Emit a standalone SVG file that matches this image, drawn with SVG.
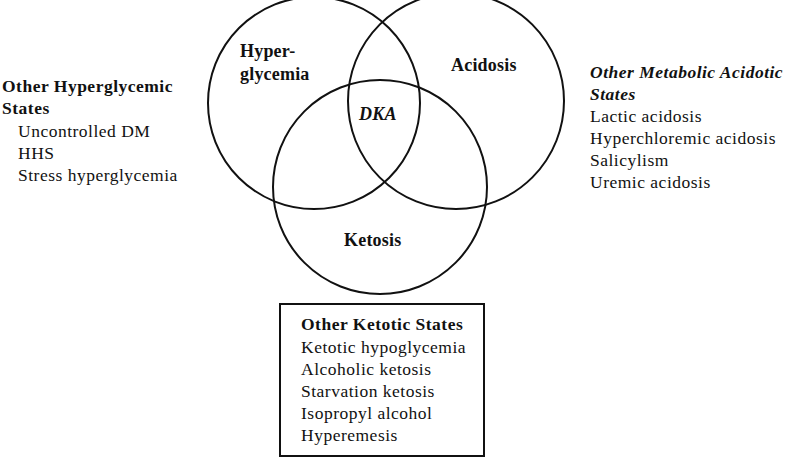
<svg xmlns="http://www.w3.org/2000/svg" width="786" height="459" viewBox="0 0 786 459">
<style>
.c{fill:none;stroke:#111;stroke-width:2}
text{font-family:"Liberation Serif","Times New Roman",serif;fill:#111;font-size:17.5px;letter-spacing:0.5px}
.b{font-weight:bold}
.bi{font-weight:bold;font-style:italic}
.lbl{font-size:18px;font-weight:bold;letter-spacing:0.2px}
</style>
<rect width="786" height="459" fill="#fff"/>
<g id="hyperglycemia">
<circle class="c" cx="314" cy="103" r="106"/>
<text class="lbl" x="240" y="57">Hyper-</text>
<text class="lbl" x="240" y="80">glycemia</text>
</g>
<g id="acidosis">
<circle class="c" cx="456" cy="101" r="108"/>
<text class="lbl" x="451" y="71">Acidosis</text>
</g>
<g id="ketosis">
<circle class="c" cx="380" cy="187" r="107"/>
<text class="lbl" x="344" y="246">Ketosis</text>
</g>
<g id="dka">
<text class="lbl" font-style="italic" x="359" y="120">DKA</text>
</g>
<g id="other-hyperglycemic">
<text class="b" x="2" y="92">Other Hyperglycemic</text>
<text class="b" x="2" y="114">States</text>
<text x="18" y="137">Uncontrolled DM</text>
<text x="18" y="159">HHS</text>
<text x="18" y="181">Stress hyperglycemia</text>
</g>
<g id="other-acidotic">
<text class="bi" x="590" y="78">Other Metabolic Acidotic</text>
<text class="bi" x="590" y="100">States</text>
<text x="590" y="122">Lactic acidosis</text>
<text x="590" y="144">Hyperchloremic acidosis</text>
<text x="590" y="166">Salicylism</text>
<text x="590" y="188">Uremic acidosis</text>
</g>
<g id="other-ketotic">
<rect x="280" y="304" width="204" height="152" fill="none" stroke="#111" stroke-width="2"/>
<text class="b" x="301" y="330">Other Ketotic States</text>
<text x="301" y="353">Ketotic hypoglycemia</text>
<text x="301" y="375">Alcoholic ketosis</text>
<text x="301" y="397">Starvation ketosis</text>
<text x="301" y="419">Isopropyl alcohol</text>
<text x="301" y="441">Hyperemesis</text>
</g>
<g id="connectors"></g>
</svg>
